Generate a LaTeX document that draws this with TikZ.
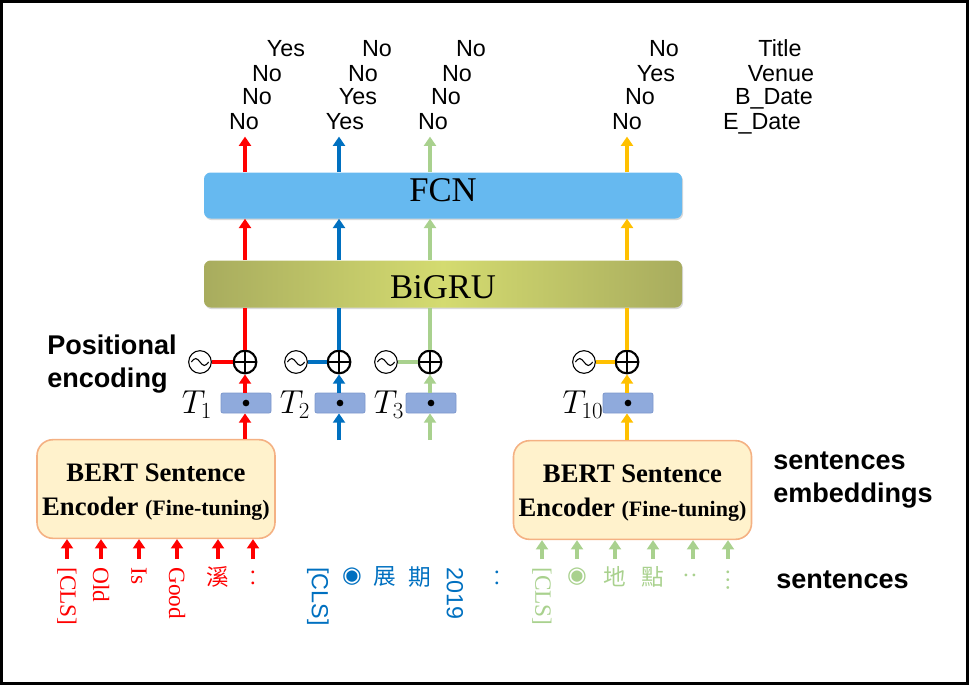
\documentclass[tikz,border=0pt]{standalone}
\usepackage{fontspec}
\setmainfont{Liberation Serif}
\setsansfont{Liberation Sans}
\newfontfamily\cjkfont{Noto Sans CJK TC}
\newfontfamily\symfont{DejaVu Sans}
\usetikzlibrary{arrows.meta,shadows}
\definecolor{cR}{RGB}{255,0,0}
\definecolor{cB}{RGB}{0,112,192}
\definecolor{cG}{RGB}{169,209,142}
\definecolor{cY}{RGB}{255,192,0}
\definecolor{fcnfill}{RGB}{102,185,240}
\definecolor{bertfill}{RGB}{255,242,204}
\definecolor{bertdraw}{RGB}{244,177,131}
\definecolor{tfill}{RGB}{143,170,220}
\definecolor{tdraw}{RGB}{125,152,205}
\definecolor{gruA}{RGB}{168,172,94}
\definecolor{gruB}{RGB}{212,219,112}
\tikzset{
  lab/.style={font=\sffamily\fontsize{17.5}{20}\selectfont, inner sep=0pt, text height=12.5pt, text depth=3.5pt},
  bigbox/.style={rounded corners=5pt, minimum width=358.5pt, inner sep=0pt,
     font=\fontsize{26}{30}\selectfont, drop shadow={shadow xshift=0.8pt,shadow yshift=-1.2pt,opacity=0.3}},
  bertbox/.style={draw=bertdraw, fill=bertfill, line width=1.2pt, rounded corners=12pt,
     minimum width=178.5pt, minimum height=74pt, inner sep=0pt},
  berttext/.style={align=center, inner sep=0pt, font=\bfseries\fontsize{20}{25.5}\selectfont},
  tbox/.style={draw=tdraw, fill=tfill, rounded corners=1.5pt, minimum width=37.5pt, minimum height=15pt, inner sep=0pt, line width=0.6pt},
  dotc/.style={circle, fill=black, minimum size=5pt, inner sep=0pt},
  plusc/.style={circle, draw, line width=1.6pt, minimum size=17pt, inner sep=0pt, fill=white,
     path picture={\draw[line width=1.3pt] (path picture bounding box.north) -- (path picture bounding box.south)
       (path picture bounding box.west) -- (path picture bounding box.east);}},
  wavec/.style={circle, draw, line width=0.8pt, minimum size=17pt, inner sep=0pt, fill=white},
  ln/.style={line width=2.7pt},
  arr/.style={line width=2.7pt, -{Triangle[length=7pt,width=9pt]}},
  tlab/.style={font=\fontsize{23}{26}\selectfont, inner sep=0pt},
  side/.style={font=\sffamily\bfseries\fontsize{20.3}{24.5}\selectfont, align=left, inner sep=0pt, anchor=west},
  tok/.style={font=\fontsize{17.5}{20}\selectfont, inner sep=0pt},
  rtok/.style={tok, rotate=-90, anchor=west},
  ctok/.style={font=\cjkfont\fontsize{17}{18}\selectfont, inner sep=0pt, anchor=north},
  stok/.style={font=\symfont\fontsize{17}{18}\selectfont, inner sep=0pt},
}
\begin{document}
\begin{tikzpicture}[x=0.75pt,y=-0.75pt]
\useasboundingbox (0,0) rectangle (969,685);
\draw[line width=2.25pt] (1.5,1.5) rectangle (967.5,683.5);

% top labels
\node[lab] (r4) at (244,123) {No};
\node[lab] (r3) at (257,98) {No};
\node[lab] (r2) at (267,75) {No};
\node[lab] (r1) at (286,50) {Yes};
\node[lab] (b4) at (345,123) {Yes};
\node[lab] (b3) at (358,98) {Yes};
\node[lab] (b2) at (363,75) {No};
\node[lab] (b1) at (377,50) {No};
\node[lab] (g4) at (433,123) {No};
\node[lab] (g3) at (446,98) {No};
\node[lab] (g2) at (457,75) {No};
\node[lab] (g1) at (471,50) {No};
\node[lab] (y4) at (627,123) {No};
\node[lab] (y3) at (640,98) {No};
\node[lab] (y2) at (656,75) {Yes};
\node[lab] (y1) at (664,50) {No};
\node[lab] (k1) at (780,50) {Title};
\node[lab] (k2) at (781,75) {Venue};
\node[lab] (k3) at (774,98) {B\_Date};
\node[lab] (k4) at (762,123) {E\_Date};

% big boxes
\node[bigbox, fill=fcnfill, minimum height=34.5pt, text depth=7.5pt] (fcn) at (443,195.5) {FCN};
\node[bigbox, left color=gruA, right color=gruA, middle color=gruB, minimum height=35.25pt, text height=22pt] (gru) at (443,284) {BiGRU};

% positional encoding
\node[plusc] (p1) at (245,362) {};
\node[plusc] (p2) at (339,362) {};
\node[plusc] (p3) at (430,362) {};
\node[plusc] (p4) at (627,362) {};
\node[wavec] (w1) at (200,362) {};
\node[wavec] (w2) at (296,362) {};
\node[wavec] (w3) at (386,362) {};
\node[wavec] (w4) at (584,362) {};
\foreach \w in {w1,w2,w3,w4}
  \draw[line width=0.8pt] ([xshift=-6.5pt]\w.center) sin ++(3.25pt,2.6pt) cos ++(3.25pt,-2.6pt) sin ++(3.25pt,-2.6pt) cos ++(3.25pt,2.6pt);

\node[side] (pe) at (47,364) {Positional\\encoding};

% T boxes
\node[tbox] (t1) at (246,403) {};
\node[tbox] (t2) at (340,403) {};
\node[tbox] (t3) at (431,403) {};
\node[tbox] (t4) at (628,403) {};
\foreach \t [count=\i] in {t1,t2,t3,t4} \node[dotc] (d\i) at (\t) {};
\node[tlab] (tl1) at (197,405) {$T_1$};
\node[tlab] (tl2) at (295,405) {$T_2$};
\node[tlab] (tl3) at (389,405) {$T_3$};
\node[tlab] (tl4) at (583,405) {$T_{10}$};

% BERT boxes
\node[bertbox] (bert1) at (156,489) {};
\node[berttext] (bert1t) at (156,492) {BERT Sentence\\Encoder {\fontsize{16.5}{20}\selectfont(Fine-tuning)}};
\node[bertbox] (bert2) at (632.5,490) {};
\node[berttext] (bert2t) at (632.5,493) {BERT Sentence\\Encoder {\fontsize{16.5}{20}\selectfont(Fine-tuning)}};

\node[side] (se) at (773,480) {sentences\\embeddings};
\node[side] (sn) at (776,580) {sentences};

% connectors top
\draw[arr,cR] (fcn.north -| p1) -- ([yshift=-2pt]r4.south -| p1);
\draw[arr,cB] (fcn.north -| p2) -- ([yshift=-2pt]b4.south -| p2);
\draw[arr,cG] (fcn.north -| p3) -- ([yshift=-2pt]g4.south -| p3);
\draw[arr,cY] (fcn.north -| p4) -- ([yshift=-2pt]y4.south -| p4);
\draw[arr,cR] (gru.north -| p1) -- (fcn.south -| p1);
\draw[arr,cB] (gru.north -| p2) -- (fcn.south -| p2);
\draw[arr,cG] (gru.north -| p3) -- (fcn.south -| p3);
\draw[arr,cY] (gru.north -| p4) -- (fcn.south -| p4);
\draw[ln,cR] (p1.north) -- (gru.south -| p1);
\draw[ln,cB] (p2.north) -- (gru.south -| p2);
\draw[ln,cG] (p3.north) -- (gru.south -| p3);
\draw[ln,cY] (p4.north) -- (gru.south -| p4);
\draw[ln,cR] (w1.east) -- (p1.west);
\draw[ln,cB] (w2.east) -- (p2.west);
\draw[ln,cG] (w3.east) -- (p3.west);
\draw[ln,cY] (w4.east) -- (p4.west);
\draw[arr,cR] (t1.north -| p1) -- (p1.south);
\draw[arr,cB] (t2.north -| p2) -- (p2.south);
\draw[arr,cG] (t3.north -| p3) -- (p3.south);
\draw[arr,cY] (t4.north -| p4) -- (p4.south);
\coordinate (cb) at (339,440);
\coordinate (cg) at (430,440);
\draw[arr,cR] (bert1.north -| p1) -- (t1.south -| p1);
\draw[arr,cB] (cb) -- (t2.south -| cb);
\draw[arr,cG] (cg) -- (t3.south -| cg);
\draw[arr,cY] (bert2.north -| p4) -- (t4.south -| p4);

% tokens red
\node[rtok, text=cR] (ra) at (67,567) {[CLS]};
\node[rtok, text=cR] (rb) at (101,567) {Old};
\node[rtok, text=cR] (rc) at (139,567) {Is};
\node[rtok, text=cR] (rd) at (177,567) {Good};
\node[ctok, text=cR] (re) at (218,566) {溪};
\node[rtok, text=cR] (rf) at (253,569) {.\hspace{0.25em}.};
% tokens blue
\node[rtok, text=cB, font=\sffamily\fontsize{17.5}{20}\selectfont] (ba) at (318,567) {[CLS]};
\node[stok, text=cB] (bb) at (352,577) {◉};
\node[ctok, text=cB] (bc) at (385,566) {展};
\node[ctok, text=cB] (bd) at (420,566) {期};
\node[rtok, text=cB, font=\sffamily\fontsize{17.5}{20}\selectfont] (be) at (455,567) {2019};
\node[rtok, text=cB] (bf) at (497,569) {.\hspace{0.25em}.};
% tokens green
\node[rtok, text=cG] (ga) at (542,567) {[CLS]};
\node[stok, text=cG] (gb) at (577,577) {◉};
\node[ctok, text=cG] (gc) at (615,566) {地};
\node[ctok, text=cG] (gd) at (653,566) {點};
\node[tok, text=cG] (ge) at (690,575) {.\hspace{0.1em}.};
\node[rtok, text=cG] (gf) at (728,568) {…};

% token arrows
\foreach \x [count=\i] in {67,101,139,177,218,253} {
  \coordinate (ar\i) at (\x,559);
  \draw[arr,cR] (ar\i) -- (ar\i |- bert1.south);
}
\foreach \x [count=\i] in {542,577,615,653,693,728} {
  \coordinate (ag\i) at (\x,559);
  \draw[arr,cG] (ag\i) -- (ag\i |- bert2.south);
}
\end{tikzpicture}
\end{document}
